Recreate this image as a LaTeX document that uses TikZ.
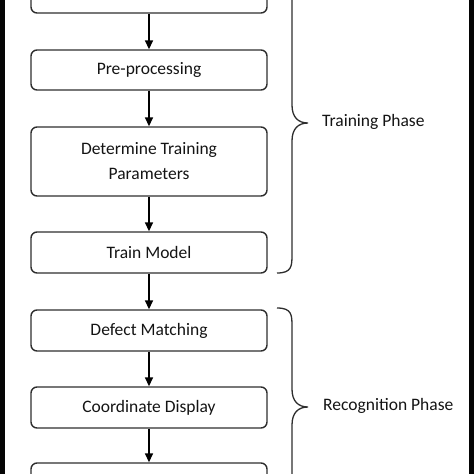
\documentclass[tikz,border=0pt]{standalone}
\usepackage{fontspec}
\setmainfont{Carlito}
\usetikzlibrary{arrows.meta}
\definecolor{boxline}{HTML}{2E2E2E}
\definecolor{txt}{HTML}{141414}
\definecolor{band}{HTML}{050505}
\begin{document}
\begin{tikzpicture}[x=1pt,y=-1pt,
  stepbox/.style={draw=boxline,line width=1.4pt,rounded corners=6pt,
    minimum width=236pt,inner sep=0pt,align=center,text=txt,
    font=\fontsize{17.5}{25}\selectfont},
  flow/.style={draw=black,line width=1.5pt,-{Triangle[width=8pt,length=9pt]}},
  bracepath/.style={draw=boxline,line width=1.3pt},
  phase/.style={anchor=west,inner sep=0pt,text=txt,font=\fontsize{17.5}{25}\selectfont},
  edgeband/.style={fill=band,draw=none,inner sep=0pt,minimum width=4.5pt,minimum height=474pt}]
\path[use as bounding box] (0,0) rectangle (474,474);
\begin{scope}
\clip (0,0) rectangle (474,474);
% boxes
\node[stepbox,minimum height=41pt] (b1) at (149,-7.5) {};
\node[stepbox,minimum height=40pt] (b2) at (149,70) {Pre-processing};
\node[stepbox,minimum height=69pt] (b3) at (149,161.5) {Determine Training\\Parameters};
\node[stepbox,minimum height=41pt] (b4) at (149,252.5) {Train Model};
\node[stepbox,minimum height=41pt] (b5) at (149,330.5) {Defect Matching};
\node[stepbox,minimum height=41pt] (b6) at (149,407.5) {Coordinate Display};
\node[stepbox,minimum height=41pt] (b7) at (149,483.5) {};
% arrows
\draw[flow] (b1) -- (b2);
\draw[flow] (b2) -- (b3);
\draw[flow] (b3) -- (b4);
\draw[flow] (b4) -- (b5);
\draw[flow] (b5) -- (b6);
\draw[flow] (b6) -- (b7);
% braces
\coordinate (t1) at (277,-27);
\coordinate (m1) at (308,123);
\coordinate (e1) at (277,273);
\draw[bracepath] (t1) .. controls (292,-27) and (292,-20) .. (292,-8)
  -- (292,105) .. controls (292,117) and (298,123) .. (m1)
  .. controls (298,123) and (292,129) .. (292,141)
  -- (292,254) .. controls (292,266) and (292,273) .. (e1);
\coordinate (t2) at (277,308);
\coordinate (m2) at (308,407);
\coordinate (e2) at (277,506);
\draw[bracepath] (t2) .. controls (292,308) and (292,315) .. (292,327)
  -- (292,389) .. controls (292,401) and (298,407) .. (m2)
  .. controls (298,407) and (292,413) .. (292,425)
  -- (292,487) .. controls (292,499) and (292,506) .. (e2);
\node[phase] (l1) at (322,122) {Training Phase};
\node[phase] (l2) at (323,406) {Recognition Phase};
\end{scope}
\node[edgeband,anchor=north west] (lb) at (0,0) {};
\node[edgeband,anchor=north east] (rb) at (474,0) {};
\end{tikzpicture}
\end{document}
